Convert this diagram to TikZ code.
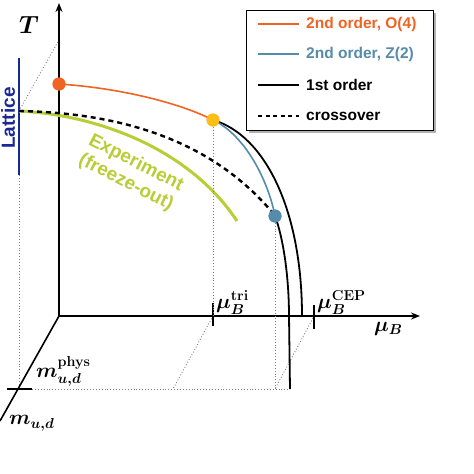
\documentclass[tikz,border=0pt]{standalone}
\usepackage{fontspec}
\setmainfont{Liberation Sans}
\usepackage{amsmath,bm}
\usetikzlibrary{arrows.meta}
\definecolor{orangeC}{RGB}{240,100,35}
\definecolor{yellowC}{RGB}{250,190,20}
\definecolor{blueC}{RGB}{85,140,170}
\definecolor{greenC}{RGB}{185,205,55}
\definecolor{latticeC}{RGB}{25,40,150}
\tikzset{
  axis/.style={line width=1.6pt, black},
  tick/.style={line width=1.4pt, black},
  guide/.style={gray, dotted, line width=0.9pt},
  dotm/.style={circle, inner sep=0pt, minimum size=13pt},
  mathlbl/.style={inner sep=0pt, font=\fontsize{22}{24}\selectfont\boldmath},
  legtext/.style={anchor=west, inner sep=0pt, font=\fontsize{15.5}{17}\selectfont\bfseries},
  legline/.style={line width=1.6pt}
}
\begin{document}
\begin{tikzpicture}[x=1pt,y=-1pt]
\useasboundingbox (0,0) rectangle (474,474);
% axes coordinates
\coordinate (O) at (59,316);
\coordinate (Ttop) at (59,3);
\coordinate (Mend) at (420,316);
\coordinate (Mlow) at (0,421);
% ticks
\coordinate (trA) at (213,303); \coordinate (trB) at (213,326);
\coordinate (ceA) at (314,305); \coordinate (ceB) at (314,329);
\coordinate (phA) at (7,389); \coordinate (phB) at (32,389);
% guide points
\coordinate (latB) at (19,175); \coordinate (latT) at (19,58);
\coordinate (latBot) at (19,389);
\coordinate (trAx) at (213,316); \coordinate (trLow) at (173,389);
\coordinate (blLow) at (275,389);
\coordinate (ceAx) at (313,318);
\coordinate (inEnd) at (290,389);
\coordinate (latX) at (19,111); \coordinate (Tp) at (59,40);
\coordinate (outEnd) at (302,316);
\coordinate (inAx) at (289,316);
\coordinate (crossEnd) at (272,212);
\coordinate (expEnd) at (237,221);

% dotted guides
\draw[guide] (latB) -- (latBot);
\draw[guide] (phB) -- (inEnd);
\draw[guide] (trAx) -- (trLow);
\draw[guide] (ceAx) -- (blLow);
\draw[guide] (latX) -- (Tp);

% axes
\draw[axis, -{Stealth[length=9pt,width=7pt]}] (O) -- (Ttop);
\draw[axis, -{Stealth[length=9pt,width=7pt]}] (O) -- (Mend);
\draw[axis] (O) -- (Mlow);
\draw[tick] (trA) -- (trB);
\draw[tick] (ceA) -- (ceB);
\draw[tick] (phA) -- (phB);

% lattice bar
\draw[latticeC, line width=2.6pt] (latT) -- (latB);
\node[rotate=90, text=latticeC, font=\fontsize{19}{21}\selectfont\bfseries, inner sep=0pt] (lattxt) at (8,118) {Lattice};

% nodes (dots)
\node[dotm, fill=orangeC] (o4) at (59,84) {};
\node[dotm, fill=yellowC] (tri) at (213,120) {};
\node[dotm, fill=blueC] (cep) at (275,216) {};

% curves
\draw[greenC, line width=3pt] (latX) .. controls (100,115) and (190,150) .. (expEnd);
\draw[black, dashed, dash pattern=on 5pt off 4pt, line width=2.4pt] (latX) .. controls (130,113) and (215,145) .. (crossEnd);
\draw[guide] (tri.south) -- (trAx);
\draw[guide] (cep.south) -- (blLow);
\draw[orangeC, line width=1.6pt] (o4.center) .. controls (120,88) and (180,103) .. (tri.center);
\draw[black, line width=1.8pt] (tri.center) .. controls (265,135) and (302,210) .. (outEnd);
\draw[blueC, line width=1.6pt] (tri.center) .. controls (245,135) and (268,180) .. (cep.center);
\draw[black, line width=1.8pt] (cep.center) .. controls (284,240) and (289,280) .. (inAx) -- (inEnd);
\node[dotm, fill=orangeC] at (o4) {};
\node[dotm, fill=yellowC] at (tri) {};
\node[dotm, fill=blueC] at (cep) {};

% experiment text
\node[rotate=-27, text=greenC, align=center, font=\fontsize{19}{22}\selectfont\bfseries, inner sep=0pt] (exp) at (131,173) {Experiment\\(freeze-out)};

% math labels
\node[mathlbl, font=\fontsize{25}{27}\selectfont\boldmath, anchor=center] (Tl) at (29,25) {$T$};
\node[mathlbl, anchor=south west] (mutri) at (216,315) {$\mu_B^{\mathbf{tri}}$};
\node[mathlbl, anchor=south west] (mucep) at (317,315) {$\mu_B^{\mathbf{CEP}}$};
\node[mathlbl, anchor=north west] (mub) at (374,322) {$\mu_B$};
\node[mathlbl, anchor=south west] (mphys) at (36,386) {$m_{u,d}^{\mathbf{phys}}$};
\node[mathlbl, anchor=south west] (mud) at (9,431) {$m_{u,d}$};

% legend
\fill[gray!60] (249,13) rectangle (436,133);
\node[draw=black, line width=1pt, fill=white, minimum width=187pt, minimum height=120pt, inner sep=0pt, anchor=north west] (leg) at (246,10) {};
\coordinate (l1a) at (258,24); \coordinate (l1b) at (299,24);
\coordinate (l2a) at (258,54); \coordinate (l2b) at (299,54);
\coordinate (l3a) at (258,85); \coordinate (l3b) at (299,85);
\coordinate (l4a) at (258,116); \coordinate (l4b) at (299,116);
\draw[legline, orangeC] (l1a) -- (l1b);
\draw[legline, blueC] (l2a) -- (l2b);
\draw[legline, black] (l3a) -- (l3b);
\draw[legline, black, dashed, dash pattern=on 4pt off 3.5pt] (l4a) -- (l4b);
\node[legtext, text=orangeC] (t1) at (306,24) {2nd order, O(4)};
\node[legtext, text=blueC] (t2) at (306,54) {2nd order, Z(2)};
\node[legtext] (t3) at (306,85) {1st order};
\node[legtext] (t4) at (306,116) {crossover};
\end{tikzpicture}
\end{document}
